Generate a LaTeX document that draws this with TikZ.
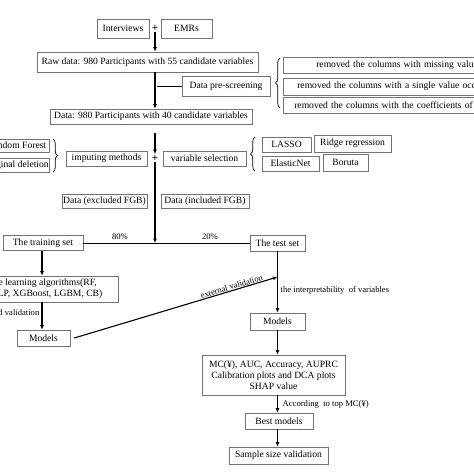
\documentclass[tikz,border=0pt]{standalone}
\usepackage{fontspec}
\setmainfont{Liberation Serif}
\usetikzlibrary{arrows.meta,decorations.pathreplacing}
\begin{document}
\begin{tikzpicture}[x=1pt,y=-1pt,
  box/.style={draw=black!55, line width=0.6pt, inner sep=1pt, font=\fontsize{9.6}{11}\selectfont, align=center},
  arr/.style={-{Latex[length=4.5pt,width=4pt]}, line width=1.1pt},
  thinline/.style={line width=0.7pt},
  lbl/.style={font=\fontsize{8.6}{10}\selectfont, inner sep=0.5pt},
  plussign/.style={font=\bfseries\fontsize{11}{11}\selectfont, inner sep=0.5pt},
  bracedec/.style={decorate, decoration={brace, amplitude=4.5pt}, line width=0.7pt}]
\useasboundingbox (0,0) rectangle (474,474);
\clip (0,0) rectangle (474,474);
% top
\node[box, minimum width=52, minimum height=19] (int) at (123,28.5) {Interviews};
\node[plussign] (plus1) at (155,28.5) {+};
\node[box, minimum width=51, minimum height=19] (emr) at (186.5,28.5) {EMRs};
\node[box, minimum width=221, minimum height=20] (raw) at (147.5,62) {Raw data: 980 Participants with 55 candidate variables};
\draw[arr] (plus1.south) -- (plus1.south |- raw.north);
\node[box, minimum width=88, minimum height=20] (dps) at (226,86.5) {Data pre-screening};
\node[box, anchor=west, minimum height=16, inner xsep=33pt, text width=240pt, align=left] (rm1) at (283,65) {removed the columns with missing values};
\node[box, anchor=west, minimum height=17, inner xsep=14pt, text width=260pt, align=left] (rm2) at (283,86.5) {removed the columns with a single value occurring};
\node[box, anchor=west, minimum height=16, inner xsep=11pt, text width=260pt, align=left] (rm3) at (283,105) {removed the columns with the coefficients of variation};
\draw[bracedec] (280,108) -- (280,58);
\node[box, minimum width=202, minimum height=15] (data2) at (151,116.5) {Data: 980 Participants with 40 candidate variables};
\draw[arr] (plus1 |- raw.south) -- (plus1 |- data2.north);
\draw[thinline] (dps.west -| plus1) ++(2,0) -- (dps.west);
% imputing / selection row
\node[box, anchor=east, minimum width=66, minimum height=13] (rf) at (50,145.5) {Random Forest};
\node[box, anchor=east, minimum width=66, minimum height=14] (od) at (50,165) {Original deletion};
\draw[bracedec] (53,139) -- (53,172);
\node[box, minimum width=81, minimum height=15] (imp) at (106.5,158.5) {imputing methods};
\node[plussign] (plus2) at (155,158) {+};
\node[box, minimum width=83, minimum height=15] (vs) at (204.5,158.5) {variable selection};
\draw[bracedec] (255,171) -- (255,137);
\node[box, minimum width=49, minimum height=15] (lasso) at (286.5,144.5) {LASSO};
\node[box, minimum width=77, minimum height=17] (ridge) at (352.5,143.5) {Ridge regression};
\node[box, minimum width=57, minimum height=15] (enet) at (290.5,163.5) {ElasticNet};
\node[box, minimum width=45, minimum height=17] (boruta) at (345.5,162.5) {Boruta};
\draw[arr] (plus2 |- data2.south) ++(0,9) -- (plus2.north);
% split
\node[box, minimum width=85, minimum height=14] (exc) at (104.5,201) {Data (excluded FGB)};
\node[box, minimum width=88, minimum height=14] (inc) at (205,201) {Data (included FGB)};
\node[box, minimum width=80, minimum height=15] (train) at (43,243) {The training set};
\node[box, minimum width=55, minimum height=16] (test) at (277.5,243) {The test set};
\draw[thinline] (train.east) -- (test.west);
\draw[arr] (plus2.south) -- (plus2 |- train.east);
\node[lbl] (p80) at (120,236.5) {80\%};
\node[lbl] (p20) at (210,236.5) {20\%};
% training branch
\node[box, minimum width=170, minimum height=26] (ml) at (33,289) {Machine learning algorithms(RF,\\SVM, MLP, XGBoost, LGBM, CB)};
\draw[arr] (train.south -| 42,0) -- (ml.north -| 42,0);
\node[box, minimum width=53, minimum height=16] (mod1) at (43.5,338) {Models};
\draw[arr] (ml.south -| 42,0) -- (mod1.north -| 42,0);
\node[lbl, anchor=east] (tenf) at (40,313) {10-fold validation};
% test branch
\node[box, minimum width=55, minimum height=17] (mod2) at (277.5,321.5) {Models};
\draw[arr] (test.south) -- (mod2.north);
\coordinate (ev) at (test.south |- 0,277);
\draw[arr] (mod1.east) ++(4,0) -- node[lbl, sloped, above, pos=0.78] (evl) {external validation} (ev);
\node[lbl, anchor=west] (interp) at (280,290) {the interpretability\ \ of variables};
\node[box, minimum width=143, minimum height=40] (mc) at (273.5,375) {MC(¥), AUC, Accuracy, AUPRC\\Calibration plots and DCA plots\\SHAP value};
\draw[arr] (mod2.south) -- (mod2.south |- mc.north);
\node[box, minimum width=68, minimum height=16] (best) at (279,421) {Best models};
\draw[arr] (mod2.south |- mc.south) -- (mod2.south |- best.north);
\node[lbl, anchor=west] (acc) at (282,404) {According\ \ to top MC(¥)};
\node[box, minimum width=99, minimum height=17] (samp) at (278.5,455.5) {Sample size validation};
\draw[arr] (mod2.south |- best.south) -- (mod2.south |- samp.north);
\end{tikzpicture}
\end{document}
